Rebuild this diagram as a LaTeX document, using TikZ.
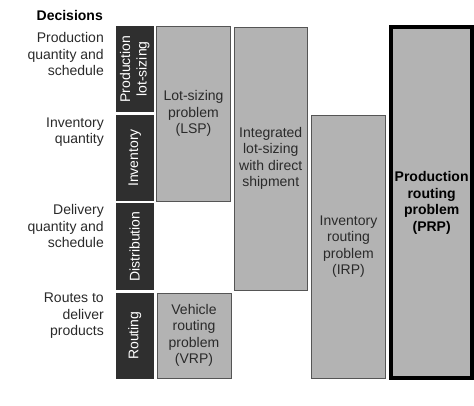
\documentclass[tikz,border=0pt]{standalone}
\usepackage{fontspec}
\setmainfont{Liberation Sans}
\definecolor{darkbox}{HTML}{2F2F2F}
\definecolor{graybox}{HTML}{B3B3B3}
\definecolor{grayline}{HTML}{555555}
\definecolor{labeltext}{HTML}{2A2A2A}
\begin{document}
\begin{tikzpicture}[x=1pt,y=-1pt,
  every node/.style={font=\fontsize{14}{16.5}\selectfont, inner sep=0pt, align=center},
  decision/.style={anchor=east, align=right, text=labeltext},
  dark/.style={fill=darkbox, text=white, rotate=90, minimum height=38pt},
  gbox/.style={fill=graybox, draw=grayline, line width=0.8pt, text=labeltext},
  prpbox/.style={fill=graybox, draw=black, line width=4pt, text=black, font=\fontsize{14}{16.5}\selectfont\bfseries}
]
\useasboundingbox (0,0) rectangle (474,406);
% header
\node[anchor=east, font=\fontsize{14}{16.5}\selectfont\bfseries, text=black] (dec) at (103,15) {Decisions};
% left decision labels
\node[decision] (d1) at (104,54) {Production\\quantity and\\schedule};
\node[decision] (d2) at (104,132) {Inventory\\quantity};
\node[decision] (d3) at (104,226) {Delivery\\quantity and\\schedule};
\node[decision] (d4) at (104,316) {Routes to\\deliver\\products};
% dark category bars
\node[dark, minimum width=86pt] (c1) at (134.7,69) {Production\\lot-sizing};
\node[dark, minimum width=86pt] (c2) at (134.7,158) {Inventory};
\node[dark, minimum width=87pt] (c3) at (134.7,246.5) {Distribution};
\node[dark, minimum width=86.5pt] (c4) at (134.7,335.75) {Routing};
% problem boxes
\node[gbox, minimum width=74pt, minimum height=174.5pt] (lsp) at (193.5,113.75) {Lot-sizing\\problem\\(LSP)};
\node[gbox, minimum width=74pt, minimum height=85pt] (vrp) at (194,335.5) {Vehicle\\routing\\problem\\(VRP)};
\node[gbox, minimum width=73.5pt, minimum height=263pt] (ils) at (270.75,158.5) {Integrated\\lot-sizing\\with direct\\shipment};
\node[gbox, minimum width=74pt, minimum height=263pt] (irp) at (348.5,246.5) {Inventory\\routing\\problem\\(IRP)};
\node[prpbox, minimum width=80.7pt, minimum height=350.7pt] (prp) at (431.65,202.65) {Production\\routing\\problem\\(PRP)};
\end{tikzpicture}
\end{document}
